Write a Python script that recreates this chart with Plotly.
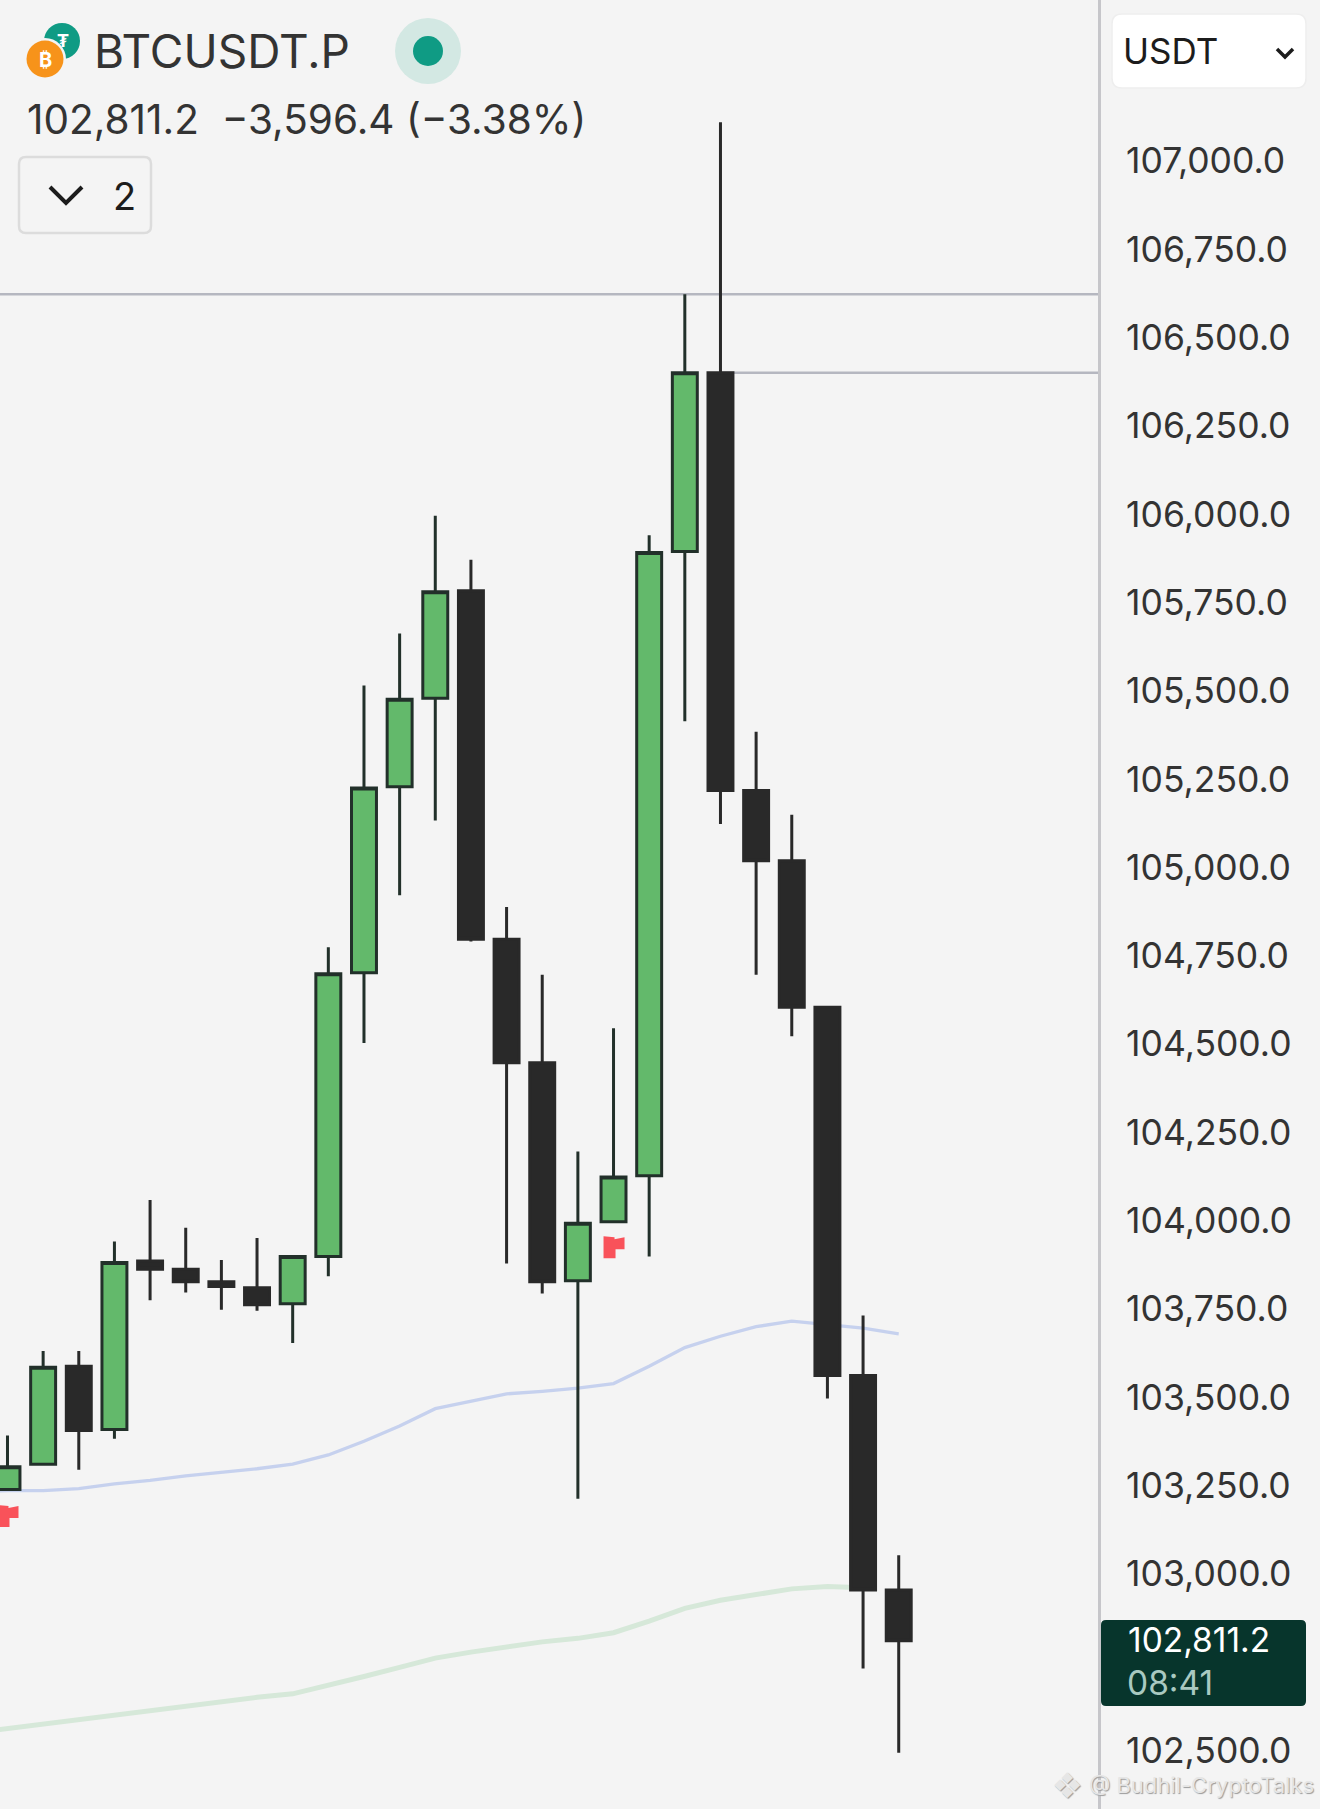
import plotly.graph_objects as go

# ---- data ----
candle_idx = list(range(26))
opens = [103239,103311,103588,103409,103886,103863,103827,103810,103765,103899,104702,105228,105479,105783,104797,104447,103830,103997,104127,105894,106400,105218,105019,104604,103562,102955]
closes = [103304,103585,103406,103882,103863,103827,103814,103762,103899,104699,105225,105476,105780,104797,104447,103827,103993,104124,105891,106400,105218,105019,104604,103562,102955,102811]
highs = [103392,103631,103631,103941,104059,103980,103889,103951,103902,104774,105515,105662,105995,105871,104888,104696,104196,104545,105940,106622,107109,105384,105149,104604,103732,103053]
lows = [103239,103311,103295,103383,103775,103797,103748,103745,103654,103843,104503,104921,105133,104790,103879,103794,103213,103997,103899,105414,105123,104696,104522,103497,102733,102494]

ma_blue_idx = list(range(-1,26))
ma_blue = [103232,103236,103236,103242,103255,103265,103278,103288,103298,103311,103337,103376,103419,103468,103490,103510,103517,103526,103539,103588,103641,103673,103700,103716,103706,103696,103680]
ma_green_idx = list(range(-1,25))
ma_green = [102550,102563,102576,102589,102602,102615,102628,102641,102651,102661,102684,102710,102736,102762,102779,102795,102808,102818,102834,102867,102903,102926,102942,102958,102965,102961]

hline_high = 106622
hline_close = 106400
hline_close_start = 20
flag_idx = [0, 17]
flag_price = [103164, 103925]

tick_vals = [102500 + 250*i for i in range(19)]
tick_text = [f"{v:,.1f}" for v in tick_vals]
last_price = "102,811.2"
countdown = "08:41"
header_symbol = "BTCUSDT.P"
header_change = "102,811.2  −3,596.4 (−3.38%)"

# ---- layout constants ----
W, H = 1320, 1809
PLOT_W = 1098
BG = "#f4f4f4"
FONT = "Inter"
Y_RANGE = [102335, 107455]
X_RANGE = [-0.21, 30.59]
px = lambda X: X / PLOT_W
py = lambda Y: 1 - Y / H

def rrect(x0, y0, x1, y1, r):
    a, b, c, d = px(x0), py(y0), px(x1), py(y1)
    rx, ry = r / PLOT_W, r / H
    return (f"M{a+rx},{b} L{c-rx},{b} Q{c},{b} {c},{b-ry} L{c},{d+ry} Q{c},{d} {c-rx},{d} "
            f"L{a+rx},{d} Q{a},{d} {a},{d+ry} L{a},{b-ry} Q{a},{b} {a+rx},{b} Z")

def circle(cx, cy, rx, ry, fill):
    return dict(type="circle", xref="paper", yref="paper", x0=px(cx-rx), x1=px(cx+rx),
                y0=py(cy+ry), y1=py(cy-ry), fillcolor=fill, line_width=0)

def chevron(cx, cy, w, h, width, color):
    return dict(type="path", xref="paper", yref="paper",
                path=f"M{px(cx-w)},{py(cy-h)} L{px(cx)},{py(cy+h)} L{px(cx+w)},{py(cy-h)}",
                line=dict(color=color, width=width))

def label(X, Y, text, size, color="#333333", anchor="left", **kw):
    return dict(xref="paper", yref="paper", x=px(X), y=py(Y), text=text, showarrow=False,
                xanchor=anchor, yanchor="middle", font=dict(family=FONT, size=size, color=color, **kw))

fig = go.Figure()

fig.add_trace(go.Scatter(x=[X_RANGE[0], X_RANGE[1]], y=[hline_high, hline_high], mode="lines",
                         line=dict(color="#b5b7c0", width=2.5), hoverinfo="skip", showlegend=False))
fig.add_trace(go.Scatter(x=[hline_close_start, X_RANGE[1]], y=[hline_close, hline_close], mode="lines",
                         line=dict(color="#b5b7c0", width=2.5), hoverinfo="skip", showlegend=False))
fig.add_trace(go.Scatter(x=ma_green_idx, y=ma_green, mode="lines",
                         line=dict(color="#d6e8d9", width=5), hoverinfo="skip", showlegend=False))
fig.add_trace(go.Scatter(x=ma_blue_idx, y=ma_blue, mode="lines",
                         line=dict(color="#c6d1ee", width=3.3), hoverinfo="skip", showlegend=False))
fig.add_trace(go.Candlestick(
    x=candle_idx, open=opens, high=highs, low=lows, close=closes, yaxis="y2",
    increasing=dict(line=dict(color="#22302a", width=3), fillcolor="#63b96b"),
    decreasing=dict(line=dict(color="#292929", width=3), fillcolor="#292929"),
    whiskerwidth=0, hoverinfo="skip", showlegend=False))

shapes = [
    # header icons
    circle(62, 41, 18, 18, "#0f9b84"),
    circle(45, 59, 21, 21, BG),
    circle(45, 59, 18.5, 18.5, "#f7931a"),
    circle(428, 51, 33, 33, "#d3e8e3"),
    circle(428, 51, 15, 15, "#0f9b84"),
    # dropdowns
    dict(type="path", xref="paper", yref="paper", path=rrect(19, 157, 151, 233, 7),
         line=dict(color="#dcdcdc", width=2.5), fillcolor=BG),
    chevron(66, 195, 16, 8, 4, "#1c1c1c"),
    dict(type="path", xref="paper", yref="paper", path=rrect(1112, 14, 1306, 88, 10),
         line=dict(color="#eeeeee", width=1.5), fillcolor="#ffffff"),
    chevron(1285, 53, 8, 4, 3.5, "#1c1c1c"),
    # price tag
    dict(type="path", xref="paper", yref="paper", path=rrect(1101, 1620, 1306, 1706, 5),
         line_width=0, fillcolor="#07352c"),
]
# red flags sit at a data anchor, drawn in pixels
for fx, fy in zip(flag_idx, flag_price):
    shapes.append(dict(type="path", xref="x", yref="y", xsizemode="pixel", ysizemode="pixel",
                       xanchor=fx, yanchor=fy,
                       path="M-10,-11 L-10,11 L1,10 L1,8 L11,10 L11,-2 L2,-2 L2,-11 Z",
                       fillcolor="#f9525a", line_width=0, layer="above"))

annotations = [
    label(92, 51, header_symbol, 46),
    label(25, 119, header_change, 40.5),
    label(124, 196, "2", 38, "#1c1c1c", anchor="center"),
    label(1121, 51, "USDT", 35, "#1c1c1c"),
    label(1126, 1640, last_price, 33.5, "#ffffff"),
    label(1125, 1683, countdown, 33.5, "#a9c9c1"),
    label(45, 60, "₿", 20, "#ffffff", anchor="center", weight="bold"),
    label(63, 40, "₮", 18, "#ffffff", anchor="center", weight="bold"),
    label(1087, 1785, "@ Budhil-CryptoTalks", 22, "#e6e6e6", shadow="1px 1px 1px #9a9a9a"),
    label(1067, 1785, "❖", 27, "#e6e6e6", anchor="center", shadow="1px 1px 1px #9a9a9a"),
]

fig.update_layout(
    width=W, height=H, margin=dict(l=0, r=W - PLOT_W, t=0, b=0, autoexpand=False),
    paper_bgcolor=BG, plot_bgcolor=BG, showlegend=False, dragmode=False,
    boxgap=0,
    shapes=shapes, annotations=annotations,
    xaxis=dict(range=X_RANGE, visible=False, rangeslider=dict(visible=False), fixedrange=True),
    yaxis=dict(range=Y_RANGE, side="right", tickmode="array", tickvals=tick_vals, ticktext=tick_text,
               showgrid=False, zeroline=False, ticks="", showline=True, linecolor="#c6c6ca", linewidth=3,
               ticklabelstandoff=18, tickfont=dict(family=FONT, size=35.5, color="#333333"),
               automargin=False, fixedrange=True),
    yaxis2=dict(range=Y_RANGE, overlaying="y", side="right", visible=False, fixedrange=True),
)

fig.write_html("out.html", config=dict(displayModeBar=False),
               post_script="document.body.style.margin='0';")
